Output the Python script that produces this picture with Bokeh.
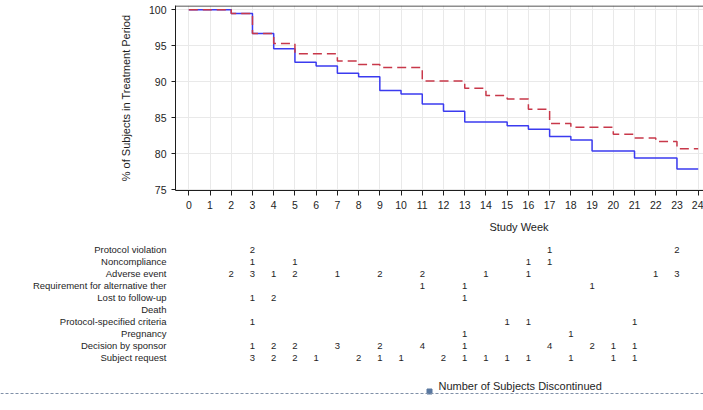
from bokeh.plotting import figure
from bokeh.models import Range1d, FixedTicker, Span
from bokeh.layouts import column
from bokeh.embed import file_html
from bokeh.resources import INLINE
from bokeh.core.properties import value

FONT = "Liberation Sans"

# ---------------- data ----------------
week_ticks = list(range(0, 25))
pct_ticks = [75, 80, 85, 90, 95, 100]

blue_weeks = [0, 2, 3, 4, 5, 6, 7, 8, 9, 10, 11, 12, 13, 15, 16, 17, 18, 19, 21, 23]
blue_pct = [100, 99.5, 96.7, 94.6, 92.7, 92.2, 91.2, 90.7, 88.8, 88.3, 86.9, 85.9,
            84.4, 83.9, 83.4, 82.4, 81.9, 80.4, 79.4, 77.9]

red_weeks = [0, 2, 3, 4, 5, 7, 8, 9, 11, 13, 14, 15, 16, 17, 18, 20, 21, 22, 23]
red_pct = [100, 99.5, 96.7, 95.3, 93.9, 92.9, 92.4, 92.0, 90.1, 89.1, 88.1, 87.6,
           86.2, 84.2, 83.7, 82.7, 82.2, 81.7, 80.7]

reasons = ["Protocol violation", "Noncompliance", "Adverse event",
           "Requirement for alternative ther", "Lost to follow-up", "Death",
           "Protocol-specified criteria", "Pregnancy", "Decision by sponsor",
           "Subject request"]

disc_reason = (["Protocol violation"] * 3 + ["Noncompliance"] * 4 + ["Adverse event"] * 11 +
               ["Requirement for alternative ther"] * 3 + ["Lost to follow-up"] * 3 +
               ["Protocol-specified criteria"] * 4 + ["Pregnancy"] * 2 +
               ["Decision by sponsor"] * 11 + ["Subject request"] * 15)
disc_week = ([3, 17, 23] +
             [3, 5, 16, 17] +
             [2, 3, 4, 5, 7, 9, 11, 14, 16, 22, 23] +
             [11, 13, 19] +
             [3, 4, 13] +
             [3, 15, 16, 21] +
             [13, 18] +
             [3, 4, 5, 7, 9, 11, 13, 17, 19, 20, 21] +
             [3, 4, 5, 6, 8, 9, 10, 12, 13, 14, 15, 16, 18, 20, 21])
disc_count = ([2, 1, 2] +
              [1, 1, 1, 1] +
              [2, 3, 1, 2, 1, 2, 2, 1, 1, 1, 3] +
              [1, 1, 1] +
              [1, 2, 1] +
              [1, 1, 1, 1] +
              [1, 1] +
              [1, 2, 2, 3, 2, 4, 1, 4, 2, 1, 1] +
              [3, 2, 2, 1, 2, 1, 1, 2, 1, 1, 1, 1, 1, 1, 1])

BLUE = "#3b3bef"
RED = "#c8384a"
INK = "#1e1e1e"

PX0, PXW = 188.3, 21.225     # canvas x of week 0, pixels per week
PY75, PYU = 190.0, 7.2       # canvas y of 74.9%, pixels per percent

# ---------------- survival chart ----------------
p = figure(width=703, height=218,
           x_range=Range1d((175 - PX0) / PXW, (703 - PX0) / PXW),
           y_range=Range1d(74.9, 74.9 + (PY75 - 5) / PYU),
           output_backend="svg", toolbar_location=None,
           min_border_left=175, min_border_right=0,
           min_border_top=5, min_border_bottom=28)
p.frame_align = False
p.outline_line_color = None

end_week = week_ticks[-1]
p.step(blue_weeks + [end_week], blue_pct + [blue_pct[-1]], mode="after",
       line_color=BLUE, line_width=1.5)
p.step(red_weeks + [end_week], red_pct + [red_pct[-1]], mode="after",
       line_color=RED, line_width=1.5, line_dash="9 5")

p.add_layout(Span(location=p.y_range.end - 0.07, dimension="width",
                  line_color=INK, line_width=1))

p.xaxis.ticker = FixedTicker(ticks=week_ticks)
p.yaxis.ticker = FixedTicker(ticks=pct_ticks)
for ax in (p.xaxis[0], p.yaxis[0]):
    ax.axis_line_color = INK
    ax.major_tick_line_color = INK
    ax.minor_tick_line_color = None
    ax.major_tick_in = 0
    ax.major_label_text_font = FONT
    ax.major_label_text_font_size = "10.5px"
    ax.major_label_text_color = INK
    ax.major_label_standoff = 5
p.xaxis.major_tick_out = 5
p.yaxis.major_tick_out = 4
p.yaxis.axis_label = "% of Subjects in Treatment Period"
p.yaxis.axis_label_text_font = FONT
p.yaxis.axis_label_text_font_size = "11px"
p.yaxis.axis_label_text_font_style = "normal"
p.yaxis.axis_label_text_color = INK
p.yaxis.axis_label_standoff = 14
p.xgrid.grid_line_color = "#e9e9e9"
p.ygrid.grid_line_color = "#e9e9e9"

# ---------------- discontinuation table ----------------
TOP_B = 218.0
ROW0, ROWH = 249.0, 12.0     # canvas y of first row, row height

def wx(px):
    return (px - PX0) / PXW

def ry(py):
    return (py - ROW0) / ROWH

q = figure(width=703, height=192, x_range=Range1d(wx(0), wx(703)),
           y_range=Range1d(ry(410), ry(TOP_B)), x_axis_type=None, y_axis_type=None,
           output_backend="svg", toolbar_location=None, min_border=0)
q.frame_align = False
q.outline_line_color = None
q.xgrid.visible = False
q.ygrid.visible = False

q.text(x=[wx(518.5)], y=[ry(226)], text=["Study Week"], text_align="center",
       text_baseline="middle", text_font=value(FONT), text_font_size="11px",
       text_color=INK)

q.text(x=[wx(166)] * len(reasons), y=list(range(len(reasons))), text=reasons,
       text_align="right", text_baseline="middle", text_font=value(FONT),
       text_font_size="9.5px", text_color=INK)

q.text(x=disc_week, y=[reasons.index(r) for r in disc_reason],
       text=[str(c) for c in disc_count], text_align="center",
       text_baseline="middle", text_font=value(FONT), text_font_size="9.5px",
       text_color=INK)

q.add_layout(Span(location=ry(393), dimension="width", line_color="#8090a8",
                  line_width=1, line_dash="3 2"))
q.scatter(x=[wx(429)], y=[ry(391)], marker="square", size=5,
          fill_color="#5a78a0", line_color="#5a78a0")
q.text(x=[wx(438)], y=[ry(385)], text=["Number of Subjects Discontinued"],
       text_align="left", text_baseline="middle", text_font=value(FONT),
       text_font_size="11px", text_color=INK)

layout = column(p, q, spacing=0)
open("out.html", "w").write(file_html(layout, INLINE))
